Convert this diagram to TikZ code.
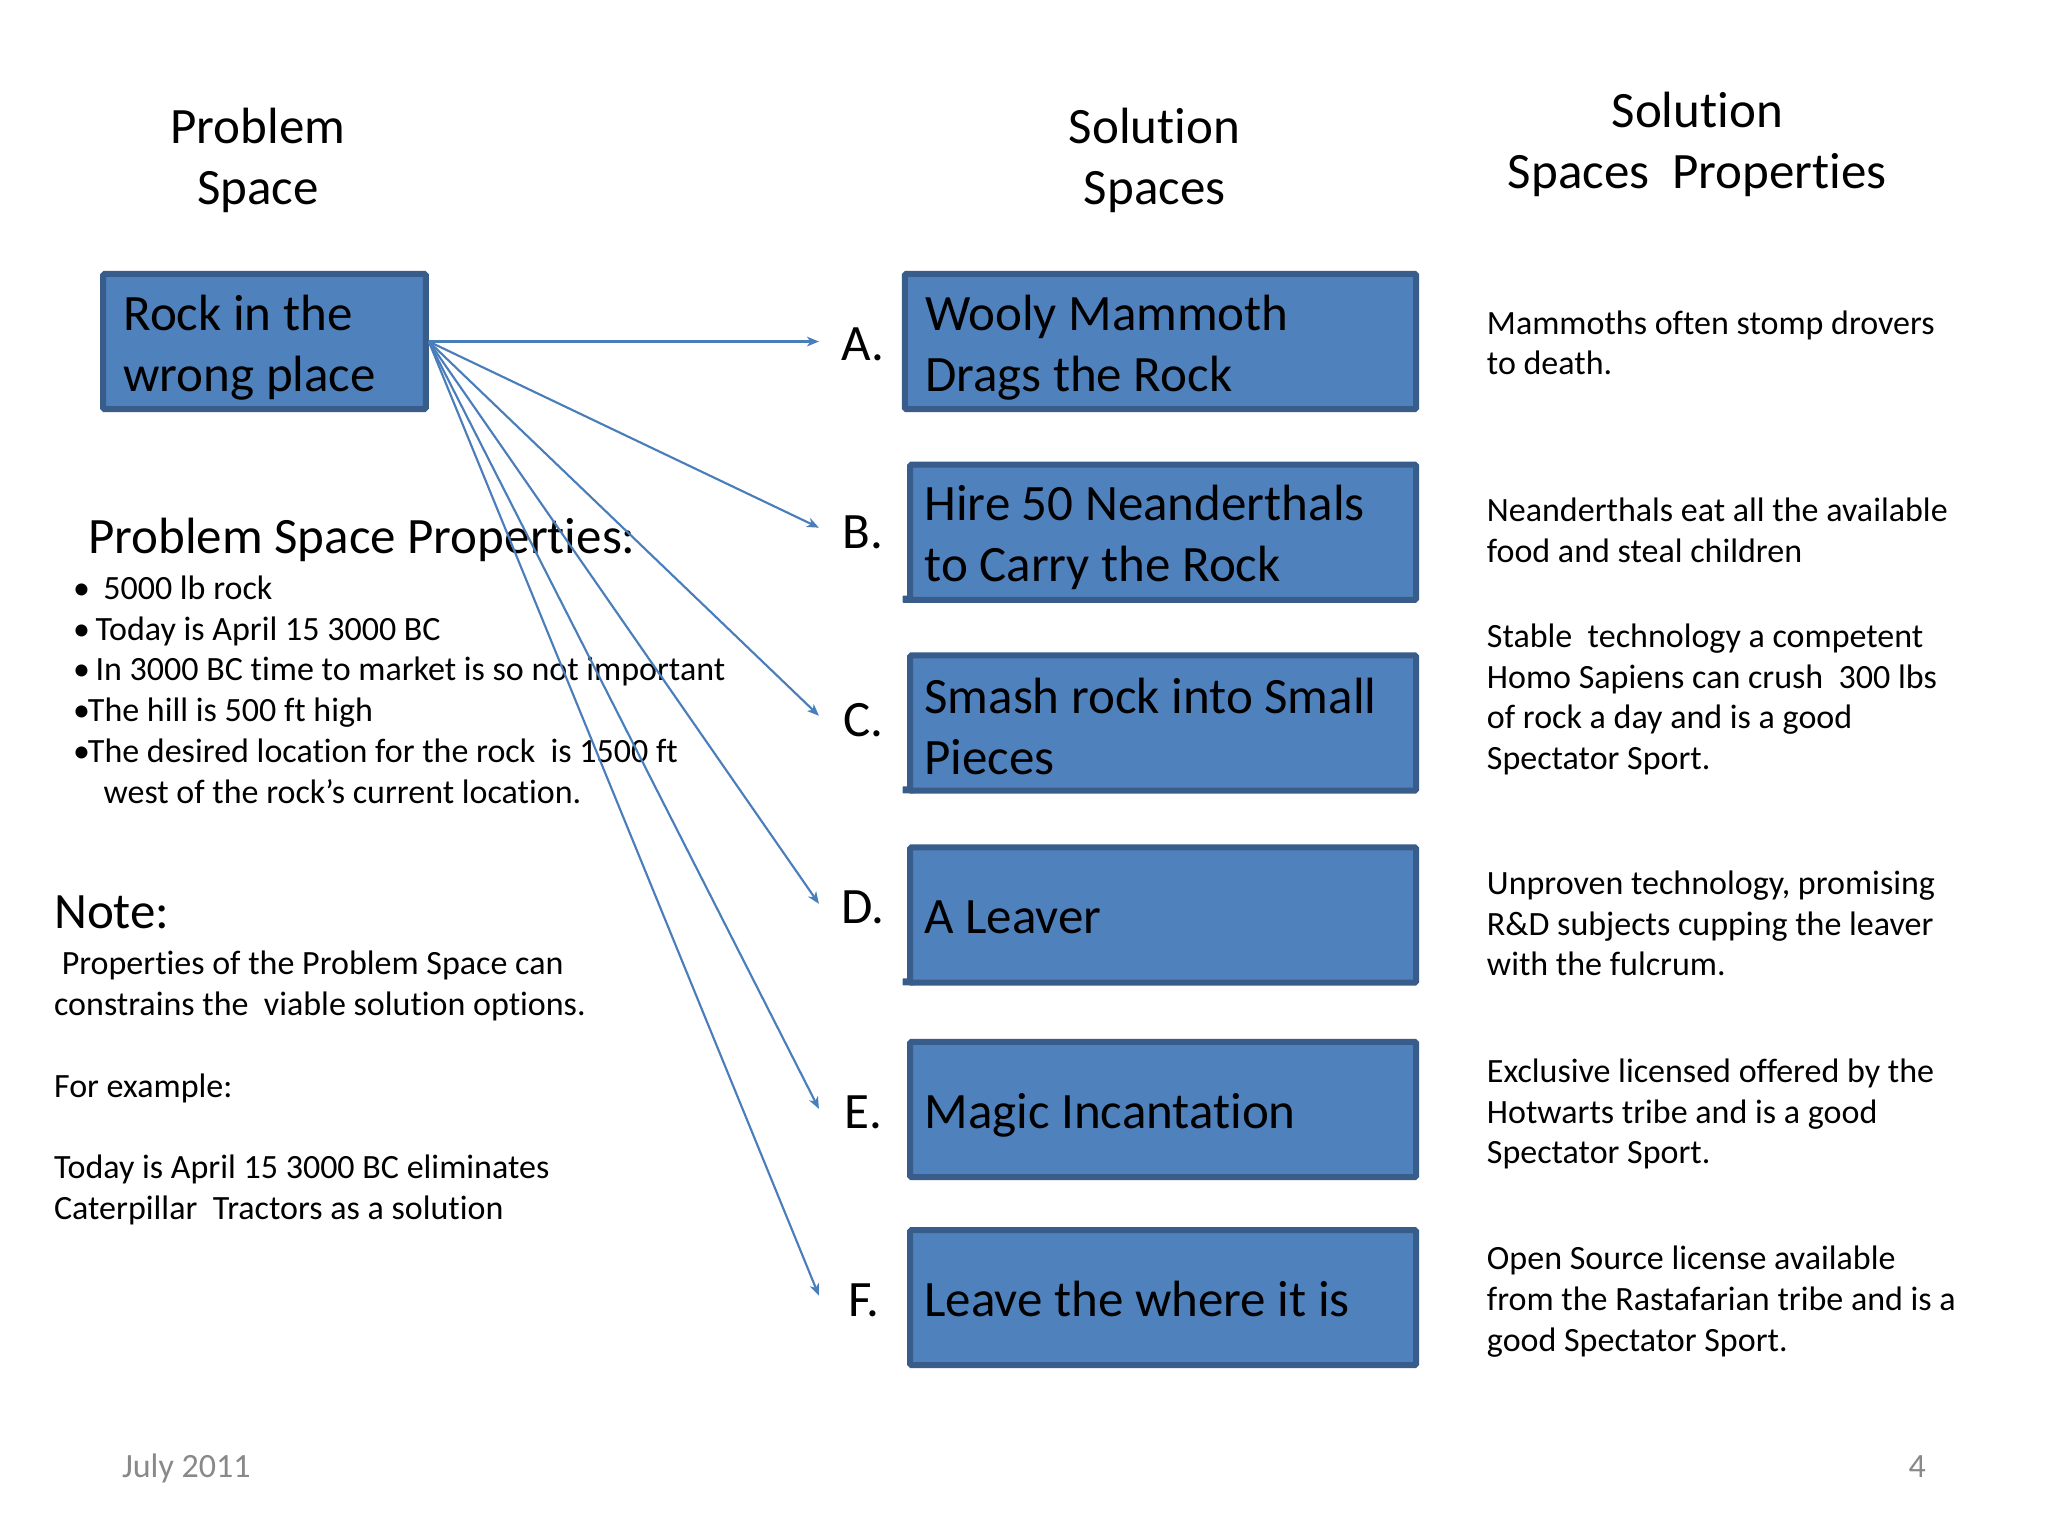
\documentclass[tikz,border=0pt]{standalone}
\usepackage{fontspec}
\setmainfont[Ligatures=NoCommon]{Carlito}
\usetikzlibrary{arrows.meta}
\definecolor{boxfill}{HTML}{4F81BD}
\definecolor{boxline}{HTML}{385D8A}
\definecolor{linkline}{HTML}{4A7EBB}
\definecolor{footgray}{HTML}{898989}
\newlength{\uu}\setlength{\uu}{0.459184bp}
\newcommand{\bul}{\rlap{\hspace*{-1.15pt}•}\kern4.1pt}
\newcommand{\boxlines}[2]{\raisebox{-#1\uu}[\height][\depth]{\begin{tabular}{@{}l@{}}#2\end{tabular}}}
\tikzset{
  x=\uu, y=-\uu,
  bigtxt/.style={font=\fontsize{18}{21.6}\selectfont, inner sep=0pt},
  smalltxt/.style={font=\fontsize{12}{14.39}\selectfont, inner sep=0pt, align=left, anchor=west},
  headtxt/.style={bigtxt, align=center},
  boxA/.style={draw=boxline, fill=boxfill, line width=2.1bp, rounded corners=0.5pt, bigtxt,
     minimum height=103.5*\uu, inner xsep=15.5*\uu, text width=391.5*\uu-31*\uu, align=flush left},
  boxB/.style={boxA, text width=387.5*\uu-22*\uu, inner xsep=11*\uu},
  letter/.style={bigtxt, anchor=base west},
  link/.style={draw=linkline, line width=0.75bp, -{Stealth[length=4.2pt,width=3.4pt,inset=1.2pt]}},
  notch/.style={fill=boxline, rounded corners=0.3pt},
  foot/.style={font=\fontsize{12}{14.39}\selectfont, text=footgray, inner sep=0pt}
}
\begin{document}
\begin{tikzpicture}
\useasboundingbox (0,0) rectangle (1568,1176);
\fill[white] (0,0) rectangle (1568,1176);

\node[headtxt] (h1) at (197.5,123) {Problem\\Space};
\node[headtxt] (h2) at (884,123) {Solution\\Spaces};
\node[headtxt] (h3) at (1299.5,110.5) {Solution\\Spaces\ \ Properties};

\node[boxA, minimum width=247*\uu, text width=247*\uu-31*\uu] (rock) at (202.5,261.5) {\boxlines{5.5}{Rock in the\\wrong place}};

\fill[notch] (691,456) rectangle (700,461.5);
\fill[notch] (691,602) rectangle (700,607.5);
\fill[notch] (691,749) rectangle (700,754.5);

\node[boxA, minimum width=391.5*\uu] (sa) at (888.5,261.5) {\boxlines{5.5}{Wooly Mammoth\\Drags the Rock}};
\node[boxB, minimum width=387.5*\uu] (sb) at (890.5,407.5) {\boxlines{5}{Hire 50 Neanderthals\\to Carry the Rock}};
\node[boxB, minimum width=387.5*\uu] (sc) at (890.5,553.5) {\boxlines{6.5}{Smash rock into Small\\Pieces}};
\node[boxB, minimum width=387.5*\uu] (sd) at (890.5,700.5) {\boxlines{5}{A Leaver}};
\node[boxB, minimum width=387.5*\uu] (se) at (890.5,849.5) {\boxlines{5}{Magic Incantation}};
\node[boxB, minimum width=387.5*\uu] (sf) at (890.5,993.5) {\boxlines{5}{Leave the where it is}};

\node[letter] (la) at (644,276) {A.};
\node[letter] (lb) at (644.5,420) {B.};
\node[letter] (lc) at (645,564) {C.};
\node[letter] (ld) at (644,707) {D.};
\node[letter] (le) at (646,864) {E.};
\node[letter] (lf) at (649,1008) {F.};

\coordinate (ta) at (627,261.5);
\coordinate (tb) at (627,404);
\coordinate (tc) at (627,548);
\coordinate (td) at (627,692);
\coordinate (te) at (627,849);
\coordinate (tf) at (627,992);

\node[bigtxt, anchor=base west] (pp) at (67,424) {Problem Space Properties:};
\node[smalltxt] (plist) at (58,528) {\bul\ \ 5000 lb rock\\\bul\ Today is April 15 3000 BC\\\bul\ In 3000 BC time to market is so not important\\\bul The hill is 500 ft high\\\bul The desired location for the rock\ \ is 1500 ft\\\hspace*{9.6pt}west of the rock’s current location.};

\node[bigtxt, anchor=base west] (nt) at (41,711) {Note:};
\node[smalltxt] (ntx) at (41,833) {\hspace*{2.7pt}Properties of the Problem Space can\\constrains the\ \ viable solution options.\\[14.39pt]For example:\\[14.39pt]Today is April 15 3000 BC eliminates\\Caterpillar\ \ Tractors as a solution};

\node[smalltxt] (r1) at (1138,262.5) {Mammoths often stomp drovers\\to death.};
\node[smalltxt] (r2) at (1138,406) {Neanderthals eat all the available\\food and steal children};
\node[smalltxt] (r3) at (1138,535.5) {Stable\ \ technology a competent\\Homo Sapiens can crush\ \ 300 lbs\\of rock a day and is a good\\Spectator Sport.};
\node[smalltxt] (r4) at (1138,707) {Unproven technology, promising\\R\&D subjects cupping the leaver\\with the fulcrum.};
\node[smalltxt] (r5) at (1138,853) {Exclusive licensed offered by the\\Hotwarts tribe and is a good\\Spectator Sport.};
\node[smalltxt] (r6) at (1138,996.5) {Open Source license available\\from the Rastafarian tribe and is a\\good Spectator Sport.};

\node[foot, anchor=west] (fd) at (93,1124) {July 2011};
\node[foot, anchor=east] (fn) at (1475,1123) {4};

\draw[link] (rock.east) -- (ta);
\draw[link] (rock.east) -- (tb);
\draw[link] (rock.east) -- (tc);
\draw[link] (rock.east) -- (td);
\draw[link] (rock.east) -- (te);
\draw[link] (rock.east) -- (tf);
\end{tikzpicture}
\end{document}
